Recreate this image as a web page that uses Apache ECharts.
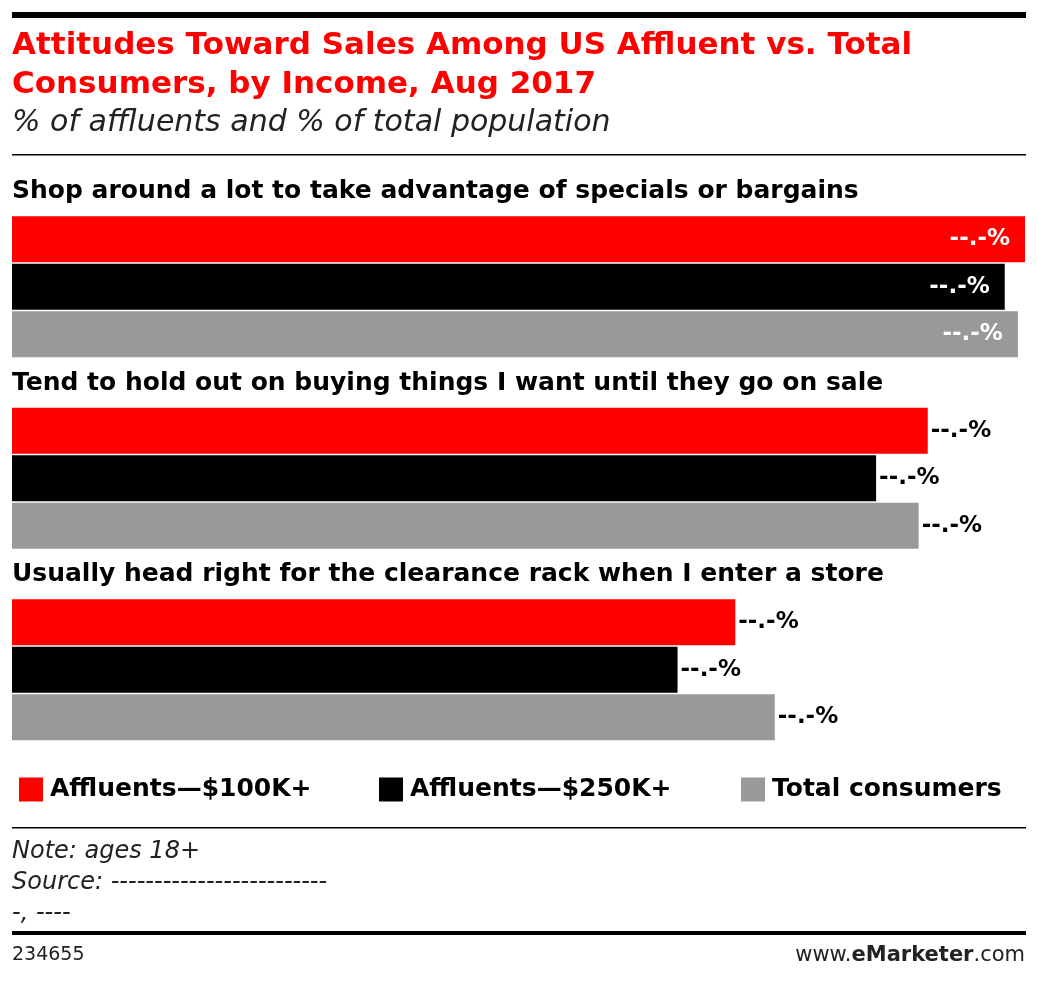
<!DOCTYPE html>
<html><head><meta charset="utf-8">
<script src="https://cdn.jsdelivr.net/npm/echarts@6/dist/echarts.min.js"></script>
<style>html,body{margin:0;padding:0;background:#fff}#main{width:1038px;height:983px}</style>
</head><body><div id="main"></div>
<script>
// 数据
const categories = ['Shop around a lot to take advantage of specials or bargains',
  'Tend to hold out on buying things I want until they go on sale',
  'Usually head right for the clearance rack when I enter a store'];
const seriesNames = ['Affluents—$100K+', 'Affluents—$250K+', 'Total consumers'];
const affluent100 = [100, 90.4, 71.4];
const affluent250 = [98.0, 85.3, 65.7];
const totalConsumers = [99.3, 89.5, 75.3];
const valueLabel = '--.-%';
const colors = ['#ff0000', '#000000', '#999999'];

const font = '"DejaVu Sans", Verdana, sans-serif';
const myChart = echarts.init(document.getElementById('main'));

function makeSeries(name, data, color) {
  return {
    name: name, type: 'bar', data: data.map((v, i) => ({
      value: v,
      label: i === 0
        ? {position: 'insideRight', color: '#fff', offset: [-10, 0]}
        : {position: 'right', color: '#000', offset: [-2, 0]}
    })),
    barWidth: 46, barGap: '3%', itemStyle: {color: color},
    label: {show: true, formatter: valueLabel, fontFamily: font, fontWeight: 'bold', fontSize: 23},
    silent: true
  };
}

const groupTitles = categories.map((c, i) => ({
  type: 'text', left: 12, top: 179 + i * 191.5,
  style: {text: c, font: 'bold 25px ' + font, fill: '#000'}
}));

const legendLeft = [14, 374, 736];
const legends = seriesNames.map((n, i) => ({
  left: legendLeft[i], top: 772, itemWidth: 24, itemHeight: 24,
  icon: 'rect', selectedMode: false, data: [n],
  textStyle: {fontFamily: font, fontWeight: 'bold', fontSize: 25, color: '#000', padding: [0, 0, 0, 2]}
}));

myChart.setOption({
  animation: false,
  grid: {left: 12, right: 13, top: 191, height: 574.5},
  xAxis: {type: 'value', min: 0, max: 100, show: false},
  yAxis: {type: 'category', data: categories, inverse: true, show: false},
  legend: legends,
  series: [
    makeSeries(seriesNames[0], affluent100, colors[0]),
    makeSeries(seriesNames[1], affluent250, colors[1]),
    makeSeries(seriesNames[2], totalConsumers, colors[2])
  ],
  graphic: [
    {type: 'rect', shape: {x: 12, y: 12, width: 1014, height: 6}, style: {fill: '#000'}},
    {type: 'text', left: 12, top: 26, style: {text: 'Attitudes Toward Sales Among US Affluent vs. Total\nConsumers, by Income, Aug 2017', font: 'bold 31px ' + font, fill: '#ff0000', lineHeight: 39}},
    {type: 'text', left: 12, top: 108, style: {text: '% of affluents and % of total population', font: 'italic 30px ' + font, fill: '#222'}},
    {type: 'rect', shape: {x: 12, y: 154, width: 1014, height: 1.5}, style: {fill: '#000'}},
    ...groupTitles,
    {type: 'rect', shape: {x: 12, y: 827, width: 1014, height: 1.5}, style: {fill: '#000'}},
    {type: 'text', left: 12, top: 836, style: {text: 'Note: ages 18+\nSource: -------------------------\n-, ----', font: 'italic 24px ' + font, fill: '#222', lineHeight: 31}},
    {type: 'rect', shape: {x: 12, y: 931, width: 1014, height: 4}, style: {fill: '#000'}},
    {type: 'text', left: 12, top: 946, style: {text: '234655', font: '19px ' + font, fill: '#222'}},
    {type: 'text', right: 13, top: 945, style: {
      text: '{a|www.}{b|eMarketer}{a|.com}',
      rich: {a: {font: '21px ' + font, fill: '#222'}, b: {font: 'bold 21px ' + font, fill: '#222'}}
    }}
  ]
});
</script>
</body></html>
